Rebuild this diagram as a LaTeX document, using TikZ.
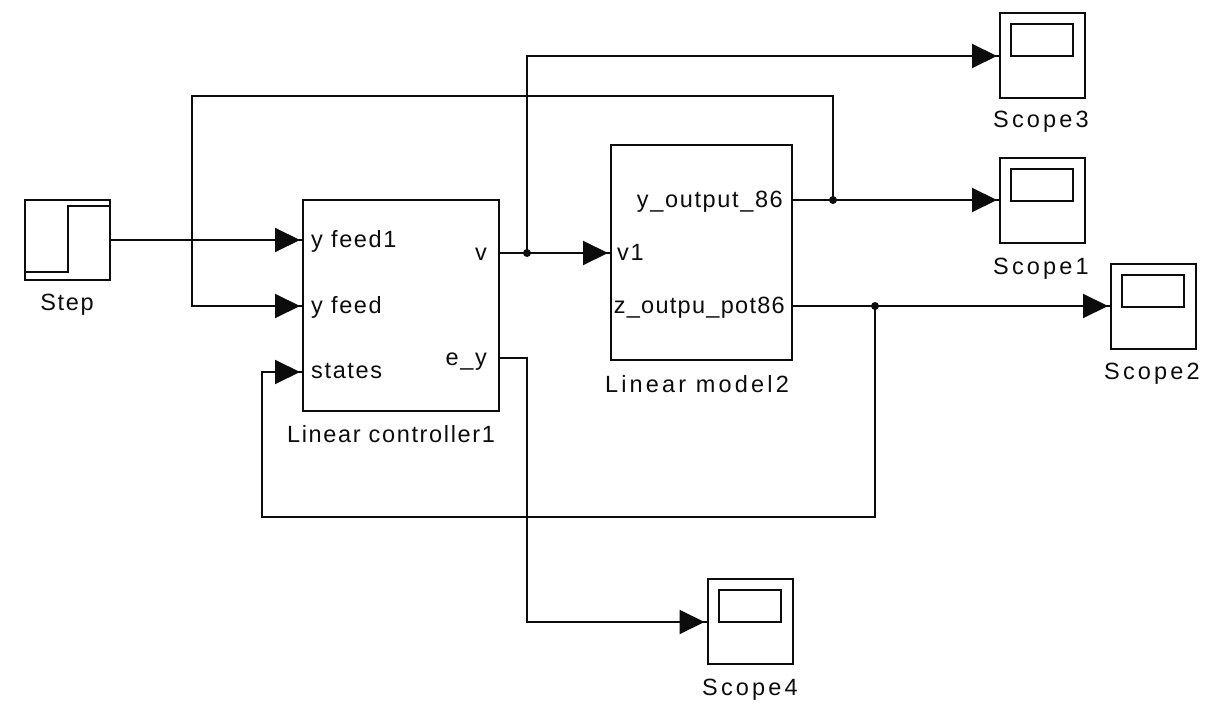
\documentclass[tikz,border=0pt]{standalone}
\usepackage{fontspec}
\setmainfont[LetterSpace=7]{Liberation Sans}
\newfontfamily\widefont[LetterSpace=13.5]{Liberation Sans}
\newfontfamily\tightfont[LetterSpace=5.5]{Liberation Sans}
\usetikzlibrary{arrows.meta}
\definecolor{ink}{HTML}{0C0C0C}
\tikzset{
  x=1bp,y=-1bp,
  block/.style={draw=ink,line width=2bp,fill=white,inner sep=0pt,outer sep=0pt,rectangle},
  scopebox/.style={block,minimum width=85bp,minimum height=85bp},
  screen/.style={block,minimum width=62bp,minimum height=32bp},
  wire/.style={draw=ink,line width=2bp,line join=miter},
  sig/.style={wire,-{Triangle[length=25bp,width=24bp]Rectangle[length=3bp,width=2bp]}},
  dotn/.style={circle,fill=ink,inner sep=0pt,minimum size=8bp},
  lab/.style={inner sep=0pt,text=ink,font=\fontsize{23.5bp}{26bp}\selectfont,anchor=base},
  widelab/.style={lab,font=\fontsize{23.5bp}{26bp}\selectfont\widefont},
  portl/.style={lab,anchor=base west},
  portr/.style={lab,anchor=base east},
}
\begin{document}
\begin{tikzpicture}
\useasboundingbox (0,0) rectangle (1215,709);
% blocks
\node[block,minimum width=85bp,minimum height=80bp] (step) at (67.5,240) {};
\node[block,minimum width=196bp,minimum height=211bp] (ctrl) at (401,305.5) {};
\node[block,minimum width=181bp,minimum height=215bp] (model) at (701.5,252.5) {};
\node[scopebox] (s3) at (1042.5,56) {};
\node[scopebox] (s1) at (1042.5,200.5) {};
\node[scopebox] (s2) at (1153.5,306) {};
\node[scopebox] (s4) at (750,621.5) {};
\node[screen] (s3i) at (1042,40) {};
\node[screen] (s1i) at (1042,185) {};
\node[screen] (s2i) at (1153,290.5) {};
\node[screen] (s4i) at (750,606) {};
\draw[wire] (26,272) -- (68,272) -- (68,206) -- (109,206);
% ports and junctions
\coordinate (cin1) at (ctrl.west |- step.east);
\coordinate (cin2) at (303,306);
\coordinate (cin3) at (303,372);
\coordinate (cout1) at (499,253);
\coordinate (cout2) at (499,358);
\coordinate (min) at (611,253);
\coordinate (mout1) at (792,200);
\coordinate (mout2) at (792,306);
\node[dotn] (jv) at (527,253) {};
\node[dotn] (jy) at (833,200) {};
\node[dotn] (jz) at (875,306) {};
% wires
\draw[sig] (step.east) -- (cin1);
\draw[sig] (jy.center) -- (833,96) -- (192,96) -- (192,306) -- (cin2);
\draw[sig] (jz.center) -- (875,517) -- (262,517) -- (262,372) -- (cin3);
\draw[sig] (cout1) -- (min);
\draw[sig] (jv.center) -- (527,56) -- (s3.west);
\draw[sig] (mout1) -- (mout1 -| s1.west);
\draw[sig] (mout2) -- (s2.west);
\draw[sig] (cout2) -- (527,358) -- (527,622) -- (527,622 -| s4.west);
% port text
\node[portl] (t1) at (311,247) {y feed1};
\node[portl] (t2) at (311,313) {y feed};
\node[portl] (t3) at (311,378) {states};
\node[portr] (t4) at (487,260) {v};
\node[portr] (t5) at (487,365) {e\_y};
\node[portl] (t6) at (617,260) {v1};
\node[portr] (t7) at (783,208) {y\_output\_86};
\node[portr,font=\fontsize{23.5bp}{26bp}\selectfont\tightfont] (t8) at (785,313) {z\_outpu\_pot86};
% block labels
\node[lab] (l1) at (67,310) {Step};
\node[lab] (l2) at (391,442) {Linear controller1};
\node[widelab] (l3) at (697,392) {Linear model2};
\node[widelab] (l4) at (1041,128) {Scope3};
\node[widelab] (l5) at (1041,274) {Scope1};
\node[widelab] (l6) at (1152,379) {Scope2};
\node[widelab] (l7) at (750,695) {Scope4};
\end{tikzpicture}
\end{document}
